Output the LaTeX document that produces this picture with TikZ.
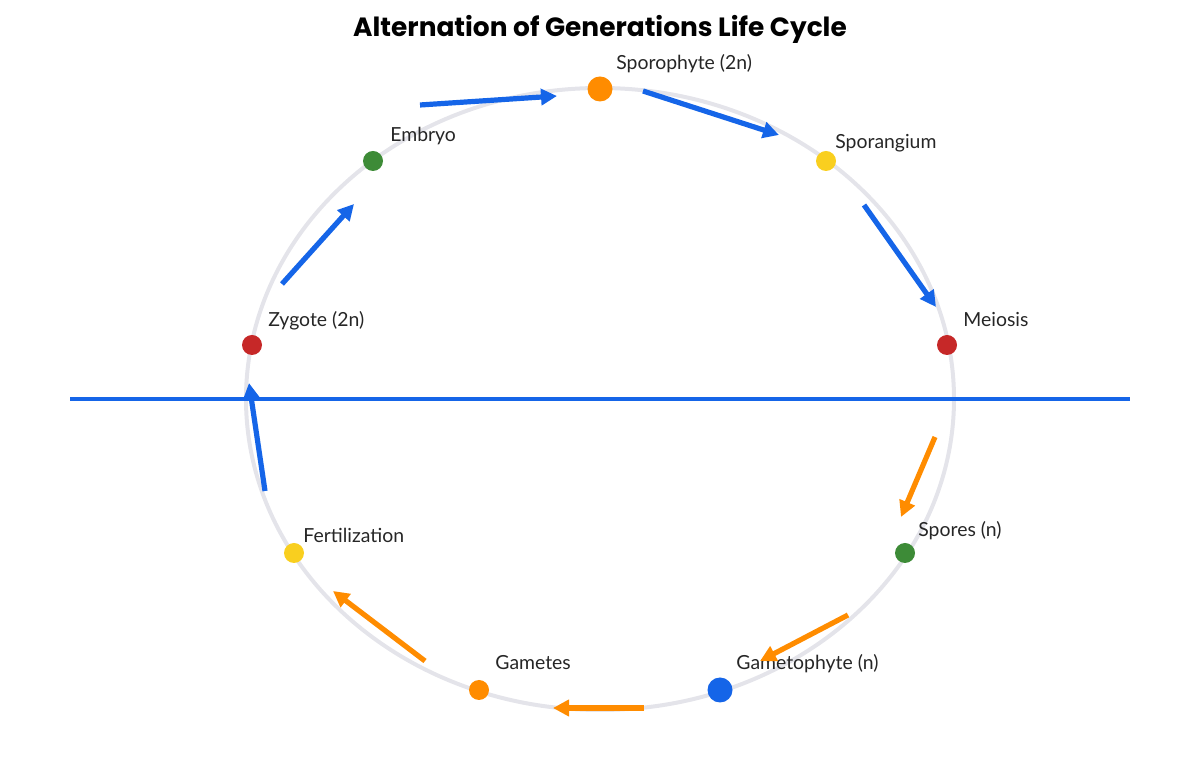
\documentclass[tikz,border=0pt]{standalone}
\usepackage{fontspec}
\setmainfont{Lato}
\newfontfamily\titlefont{Poppins}
\usetikzlibrary{positioning, arrows.meta}
\definecolor{CycBlue}{HTML}{1565E8}
\definecolor{CycOrange}{HTML}{FF8C00}
\definecolor{CycRed}{HTML}{C62828}
\definecolor{CycGreen}{HTML}{3D8B37}
\definecolor{CycYellow}{HTML}{F9CF1F}
\definecolor{CycGray}{HTML}{E4E4EA}
\tikzset{
  stage/.style={circle, inner sep=0pt, minimum size=10pt, fill=#1},
  bigstage/.style={circle, inner sep=0pt, minimum size=12.5pt, fill=#1},
  lbl/.style={anchor=base west, font=\fontsize{9.7}{11}\selectfont, text=black!85, inner sep=0pt},
  step/.style={-{Triangle[length=8pt, width=8pt]}, line width=2.6pt, draw=#1}
}
\begin{document}
\begin{tikzpicture}[x=0.5pt, y=-0.5pt]
    \useasboundingbox (0,0) rectangle (1200,763);
    % title
    \node (title) at (600,29) {\titlefont\fontsize{13.2}{16}\selectfont\bfseries Alternation of Generations Life Cycle};
    
    % cycle
    \draw[CycGray, line width=2pt] (600,399) ellipse [x radius=354, y radius=311];
    \draw[CycBlue, line width=2pt] (70,399) coordinate (L) -- (1130,399) coordinate (R);
    
    % stages
    \node[bigstage=CycOrange] (sporo) at (600,89) {};
    \node[stage=CycYellow] (sporang) at (826,161) {};
    \node[stage=CycRed] (meio) at (947,345) {};
    \node[stage=CycGreen] (spores) at (905,553) {};
    \node[bigstage=CycBlue] (gameto) at (720,690) {};
    \node[stage=CycOrange] (gametes) at (479,690) {};
    \node[stage=CycYellow] (fert) at (294,553) {};
    \node[stage=CycRed] (zyg) at (252,345) {};
    \node[stage=CycGreen] (emb) at (373,161) {};
    
    % labels
    \node[lbl] at (616,70) {Sporophyte (2n)};
    \node[lbl] at (835,149) {Sporangium};
    \node[lbl] at (963,327) {Meiosis};
    \node[lbl] at (918,537) {Spores (n)};
    \node[lbl] at (736,670) {Gametophyte (n)};
    \node[lbl] at (495,670) {Gametes};
    \node[lbl] at (303,543) {Fertilization};
    \node[lbl] at (268,327) {Zygote (2n)};
    \node[lbl] at (390,142) {Embryo};
    
    % arrows
    \coordinate (a1) at (420,105); \coordinate (b1) at (557,96);
    \coordinate (a2) at (643,91);  \coordinate (b2) at (779,135);
    \coordinate (a3) at (864,205); \coordinate (b3) at (936,307);
    \coordinate (a4) at (935,437); \coordinate (b4) at (901,517);
    \coordinate (a5) at (848,615); \coordinate (b5) at (760,661);
    \coordinate (a6) at (644,708); \coordinate (b6) at (553,708);
    \coordinate (a7) at (425,661); \coordinate (b7) at (333,591);
    \coordinate (a8) at (265,491); \coordinate (b8) at (249,383);
    \coordinate (a9) at (282,284); \coordinate (b9) at (354,204);
    \draw[step=CycBlue] (a1) -- (b1);
    \draw[step=CycBlue] (a2) -- (b2);
    \draw[step=CycBlue] (a3) -- (b3);
    \draw[step=CycOrange] (a4) -- (b4);
    \draw[step=CycOrange] (a5) -- (b5);
    \draw[step=CycOrange] (a6) -- (b6);
    \draw[step=CycOrange] (a7) -- (b7);
    \draw[step=CycBlue] (a8) -- (b8);
    \draw[step=CycBlue] (a9) -- (b9);
\end{tikzpicture}
\end{document}
